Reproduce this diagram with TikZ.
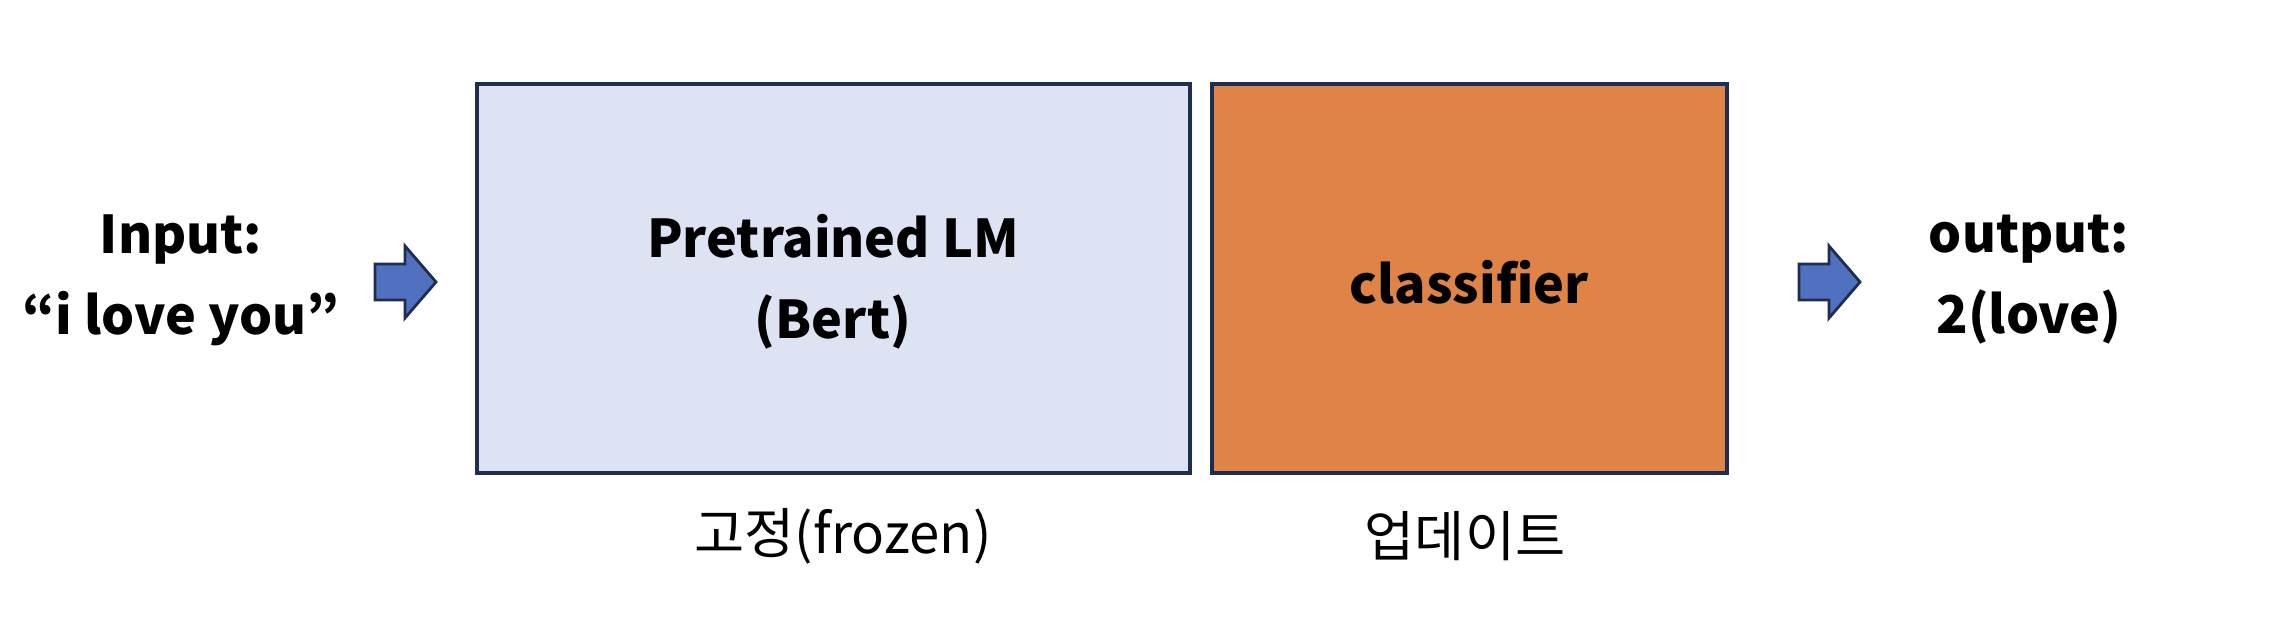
\documentclass[tikz,border=0pt]{standalone}
\usepackage{fontspec}
\setmainfont{Noto Sans CJK KR}
\begin{document}
\begin{tikzpicture}[x=0.01cm,y=-0.01cm,
  lbl/.style={font=\fontsize{14.8}{23}\selectfont\bfseries,align=center,inner sep=0},
  sub/.style={font=\fontsize{15.5}{22}\selectfont,inner sep=0},
  blk/.style={line width=1.2pt}]
\definecolor{lmblue}{HTML}{DDE3F2}
\definecolor{clsorange}{HTML}{DF8446}
\definecolor{arrblue}{HTML}{4F71BF}
\definecolor{edge}{HTML}{1F2D4F}
\useasboundingbox (0,0) rectangle (2276,618);
\draw[blk,draw=edge,fill=lmblue] (477,84) rectangle (1190,473);
\draw[blk,draw=edge,fill=clsorange] (1212,84) rectangle (1727,473);
\node[lbl] (lmt) at (833,282) {Pretrained LM\\(Bert)};
\node[lbl] (clst) at (1469,282) {classifier};
\node[lbl] (in) at (181,280) {Input:\\“i love you”};
\node[lbl] (out) at (2029,280) {output:\\2(love)};
\node[sub] (fz) at (843,536) {고정(frozen)};
\node[sub] (up) at (1465,536) {업데이트};
\coordinate (a1) at (375,282);
\coordinate (a2) at (1799,282);
\foreach \c in {a1,a2}{
  \draw[fill=arrblue,draw=edge,line width=0.8pt] ([shift={(0,-18)}]\c) -- ++(30,0) -- ++(0,-18) -- ++(31,36) -- ++(-31,36) -- ++(0,-18) -- ++(-30,0) -- cycle;
}
\end{tikzpicture}
\end{document}
